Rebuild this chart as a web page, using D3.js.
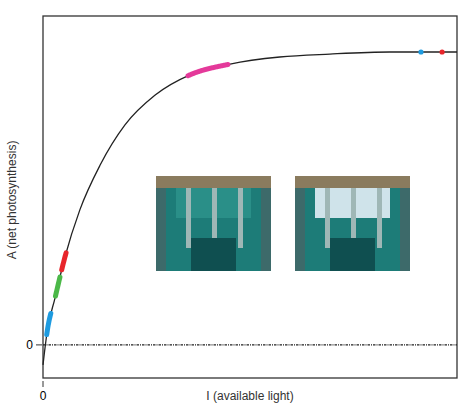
<!DOCTYPE html>
<html><head><meta charset="utf-8">
<script src="https://cdn.jsdelivr.net/npm/d3@7"></script>
<style>body{margin:0;background:#fff}</style>
</head><body>
<svg id="chart" width="474" height="413"></svg>
<script>
// curve
const light = [0, 1, 2.9, 5.3, 8.9, 13.8, 19.8, 27.1, 35.5, 45.2, 57.2, 69.3, 83.8, 100]
const netA = [-0.68, 0.45, 1.6, 3.0, 4.61, 6.14, 7.51, 8.53, 9.22, 9.59, 9.83, 9.93, 10, 10]
// highlighted stretches along the curve
const segLo = [0.9, 3.0, 4.5, 35]
const segHi = [1.9, 4.1, 5.6, 44.7]
const segColor = ["#1e9be0", "#4bb848", "#e8252b", "#e4399a"]
const dotLight = [91.3, 96.4]
const dotColor = ["#1e9be0", "#e8252b"]

const svg = d3.select("#chart")
const x = d3.scaleLinear().domain([0, 100]).range([43, 457])
const y = d3.scaleLinear().domain([-1.13, 11.23]).range([378, 16])

// frame
svg.append("rect").attr("x", 43).attr("y", 16).attr("width", 414).attr("height", 362)
  .attr("fill", "none").attr("stroke", "#333").attr("stroke-width", 1.3)

// zero line
svg.append("line").attr("x1", x(0)).attr("x2", x(100)).attr("y1", y(0)).attr("y2", y(0))
  .attr("stroke", "#222").attr("stroke-width", 1.4).attr("stroke-dasharray", "2.5,1,1,1")

// ticks
svg.append("line").attr("x1", 36).attr("x2", 42).attr("y1", y(0)).attr("y2", y(0)).attr("stroke", "#333")
svg.append("text").attr("x", 33).attr("y", y(0) + 4).attr("text-anchor", "end")
  .attr("font-family", "Liberation Sans").attr("font-size", 12).text("0")
svg.append("line").attr("x1", x(0)).attr("x2", x(0)).attr("y1", 381).attr("y2", 387).attr("stroke", "#333")
svg.append("text").attr("x", x(0)).attr("y", 400).attr("text-anchor", "middle")
  .attr("font-family", "Liberation Sans").attr("font-size", 12).text("0")

// axis labels
svg.append("text").attr("x", 250).attr("y", 400).attr("text-anchor", "middle")
  .attr("font-family", "Liberation Sans").attr("font-size", 12).attr("fill", "#333").text("I (available light)")
svg.append("text").attr("transform", "translate(16,200) rotate(-90)").attr("text-anchor", "middle")
  .attr("font-family", "Liberation Sans").attr("font-size", 12).attr("fill", "#333").text("A (net photosynthesis)")

// photos
function photo(x0, y0, sky) {
  const g = svg.append("g").attr("transform", `translate(${x0},${y0})`)
  g.append("rect").attr("width", 115).attr("height", 95).attr("fill", "#1d7c78")
  g.append("rect").attr("width", 115).attr("height", 12).attr("fill", "#8a7b5e")
  g.append("rect").attr("x", 20).attr("y", 12).attr("width", 75).attr("height", 30).attr("fill", sky ? "#cfe3ea" : "#2a8f88")
  ;[30, 56, 82].forEach(c => g.append("rect").attr("x", c).attr("y", 12).attr("width", 5).attr("height", 60)
    .attr("fill", "#9fb7b6"))
  g.append("rect").attr("x", 35).attr("y", 62).attr("width", 45).attr("height", 33).attr("fill", "#0f4f50")
  g.append("rect").attr("x", 0).attr("y", 12).attr("width", 10).attr("height", 83).attr("fill", "#3d6a6a")
  g.append("rect").attr("x", 105).attr("y", 12).attr("width", 10).attr("height", 83).attr("fill", "#3d6a6a")
}
photo(156, 176, false)
photo(295, 176, true)

// curve
const line = d3.line().x(d => x(d[0])).y(d => y(d[1])).curve(d3.curveMonotoneX)
const path = svg.append("path").datum(light.map((l, i) => [l, netA[i]]))
  .attr("d", line).attr("fill", "none").attr("stroke", "#222").attr("stroke-width", 1.3)

// highlighted segments sampled from the curve path
const node = path.node(), len = node.getTotalLength()
const pts = d3.range(0, len, 0.5).map(s => node.getPointAtLength(s))
segLo.forEach((lo, i) => {
  const seg = pts.filter(p => p.x >= x(lo) && p.x <= x(segHi[i]))
  svg.append("path").attr("d", d3.line().x(p => p.x).y(p => p.y)(seg))
    .attr("fill", "none").attr("stroke", segColor[i]).attr("stroke-width", 5).attr("stroke-linecap", "round")
})
dotLight.forEach((l, i) => {
  svg.append("circle").attr("cx", x(l)).attr("cy", y(10)).attr("r", 2.6).attr("fill", dotColor[i])
})
</script>
</body></html>
